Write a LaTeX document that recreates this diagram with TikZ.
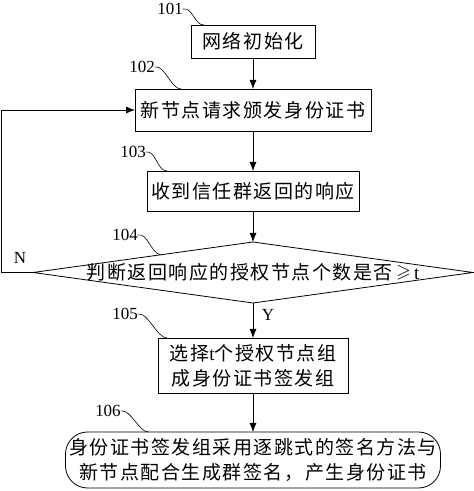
\documentclass[tikz,border=0pt]{standalone}
\usepackage{amssymb}
\usepackage{fontspec}
\setmainfont{Liberation Serif}
\newfontfamily\cjk[LetterSpace=8]{Noto Sans CJK SC}
\usetikzlibrary{shapes.geometric, arrows.meta, positioning, calc}

\begin{document}
\begin{tikzpicture}[
    x=1pt, y=1pt,
    node distance=31pt,
    box/.style={draw, line width=0.8pt, align=center, font=\cjk\fontsize{19}{25}\selectfont,
                inner sep=0pt, outer sep=0pt},
    proc/.style={box, minimum height=40pt},
    term/.style={box, rounded corners=22pt, minimum width=375pt, minimum height=56pt},
    decide/.style={draw, diamond, line width=0.8pt, inner sep=0pt, outer sep=0pt,
                   minimum width=440pt, minimum height=61pt},
    num/.style={font=\fontsize{17}{17}\selectfont, inner sep=0pt},
    arr/.style={-{Latex[length=9pt, width=7pt]}, line width=0.8pt},
    lead/.style={line width=0.6pt}
]
\useasboundingbox (0,0) rectangle (474,491);

\node[proc, minimum width=124pt, minimum height=33pt] (b101) at (253,449.5) {网络初始化};
\node[proc, minimum width=236pt, minimum height=42pt, below=of b101] (b102) {新节点请求颁发身份证书};
\node[proc, minimum width=212pt, below=40pt of b102] (b103) {收到信任群返回的响应};
\node[decide, below=of b103] (d104) {};
\node[box, draw=none] (t104) at (d104)
    {判断返回响应的授权节点个数是否\,\raisebox{2pt}{$\geqslant$}\,{\rmfamily t}};
\node[proc, minimum width=190pt, minimum height=55pt, below=35pt of d104] (b105)
    {选择{\rmfamily t}个授权节点组\\成身份证书签发组};
\node[term, below=39pt of b105] (b106)
    {身份证书签发组采用逐跳式的签名方法与\\新节点配合生成群签名，产生身份证书};

% step numbers
\node[num] (l101) at (170,482) {101};
\node[num] (l102) at (142,424) {102};
\node[num] (l103) at (133,339) {103};
\node[num] (l104) at (125,256) {104};
\node[num] (l105) at (125,177) {105};
\node[num] (l106) at (108,80) {106};
\node[num] (n) at (20,233) {N};
\node[num] (y) at (268,176) {Y};

\draw[lead] (l101.east) .. controls +(10,2) and +(-10,0) .. ([xshift=13pt]b101.north west);
\draw[lead] (l102.east) .. controls +(10,2) and +(-10,0) .. ([xshift=46pt]b102.north west);
\draw[lead] (l103.east) .. controls +(10,2) and +(-10,0) .. ([xshift=20pt]b103.north west);
\draw[lead] (l104.east) .. controls +(10,2) and +(-10,2) .. ($(d104.west)!.58!(d104.north)$);
\draw[lead] (l105.east) .. controls +(10,2) and +(-10,0) .. ([xshift=9pt]b105.north west);
\draw[lead] (l106.east) .. controls +(10,2) and +(-10,0) .. ([xshift=83pt]b106.north west);

\foreach \a/\b in {b101/b102, b102/b103, b103/d104, d104/b105, b105/b106} \draw[arr] (\a) -- (\b);

\coordinate (back) at (1,0);
\draw[arr] (d104.west) -- (back |- d104.west) |- (b102.west);
\end{tikzpicture}
\end{document}
